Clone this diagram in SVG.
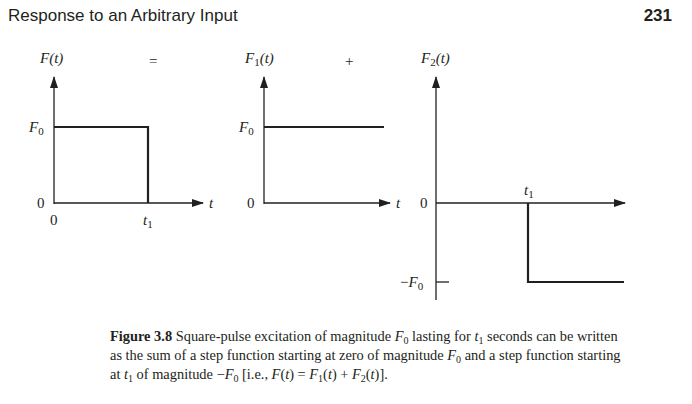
<svg xmlns="http://www.w3.org/2000/svg" width="692" height="404" viewBox="0 0 692 404">
<style>
.ax{stroke:#231f20;stroke-width:1.3;fill:none}
.sig{stroke:#231f20;stroke-width:2.2;fill:none}
.m{font-family:"Liberation Serif",serif;font-size:15px;fill:#231f20}
.i{font-style:italic}
.cap{font-family:"Liberation Serif",serif;font-size:14.4px;fill:#231f20}
</style>
<defs><marker id="ar" markerWidth="12" markerHeight="8" refX="11" refY="4" orient="auto" markerUnits="userSpaceOnUse"><path d="M0,0 L12,4 L0,8 Z" fill="#231f20"/></marker></defs>
<rect width="692" height="404" fill="#fff"/>
<text x="8" y="21" font-family="Liberation Sans,sans-serif" font-size="17" fill="#231f20">Response to an Arbitrary Input</text>
<text x="672" y="21" text-anchor="end" font-family="Liberation Sans,sans-serif" font-size="17" font-weight="bold" fill="#231f20">231</text>
<g id="connectors">
<path class="ax" d="M54,204 V77" marker-end="url(#ar)"/>
<path class="ax" d="M54,203 H203" marker-end="url(#ar)"/>
<path class="ax" d="M264,204 V77" marker-end="url(#ar)"/>
<path class="ax" d="M264,203 H390" marker-end="url(#ar)"/>
<path class="ax" d="M436,300 V77" marker-end="url(#ar)"/>
<path class="ax" d="M436,203 H625" marker-end="url(#ar)"/>
<path class="ax" d="M436,282 H449"/>
</g>
<g id="panel1">
<path class="sig" d="M54,127 H148 V203"/>
<text class="m i" x="40" y="63">F(t)</text>
<text class="m" x="149" y="66">=</text>
<text class="m i" x="29" y="132">F<tspan style="font-style:normal" font-size="11" dy="3">0</tspan></text>
<text class="m" x="37" y="208">0</text>
<text class="m" x="50" y="225">0</text>
<text class="m i" x="143" y="225">t<tspan style="font-style:normal" font-size="11" dy="3">1</tspan></text>
<text class="m i" x="209" y="208">t</text>
</g>
<g id="panel2">
<path class="sig" d="M264,127 H384"/>
<text class="m i" x="245" y="63">F<tspan style="font-style:normal" font-size="11" dy="3">1</tspan><tspan dy="-3">(t)</tspan></text>
<text class="m" x="345" y="66">+</text>
<text class="m i" x="239" y="132">F<tspan style="font-style:normal" font-size="11" dy="3">0</tspan></text>
<text class="m" x="247" y="208">0</text>
<text class="m i" x="396" y="208">t</text>
</g>
<g id="panel3">
<path class="sig" d="M528,203 V282 H624"/>
<text class="m i" x="421" y="63">F<tspan style="font-style:normal" font-size="11" dy="3">2</tspan><tspan dy="-3">(t)</tspan></text>
<text class="m" x="420" y="208">0</text>
<text class="m i" x="524" y="195">t<tspan style="font-style:normal" font-size="11" dy="3">1</tspan></text>
<text class="m" x="400" y="287">−<tspan class="i">F</tspan><tspan font-size="11" dy="3">0</tspan></text>
</g>
<g id="caption">
<text class="cap" x="110" y="341"><tspan font-weight="bold">Figure 3.8</tspan>   Square-pulse excitation of magnitude <tspan class="i">F</tspan><tspan font-size="10" dy="3">0</tspan><tspan dy="-3"> lasting for </tspan><tspan class="i">t</tspan><tspan font-size="10" dy="3">1</tspan><tspan dy="-3"> seconds can be written</tspan></text>
<text class="cap" x="110" y="360">as the sum of a step function starting at zero of magnitude <tspan class="i">F</tspan><tspan font-size="10" dy="3">0</tspan><tspan dy="-3"> and a step function starting</tspan></text>
<text class="cap" x="110" y="379">at <tspan class="i">t</tspan><tspan font-size="10" dy="3">1</tspan><tspan dy="-3"> of magnitude −</tspan><tspan class="i">F</tspan><tspan font-size="10" dy="3">0</tspan><tspan dy="-3"> [i.e., </tspan><tspan class="i">F</tspan>(<tspan class="i">t</tspan>) = <tspan class="i">F</tspan><tspan font-size="10" dy="3">1</tspan><tspan dy="-3">(</tspan><tspan class="i">t</tspan>) + <tspan class="i">F</tspan><tspan font-size="10" dy="3">2</tspan><tspan dy="-3">(</tspan><tspan class="i">t</tspan>)].</text>
</g>
</svg>
